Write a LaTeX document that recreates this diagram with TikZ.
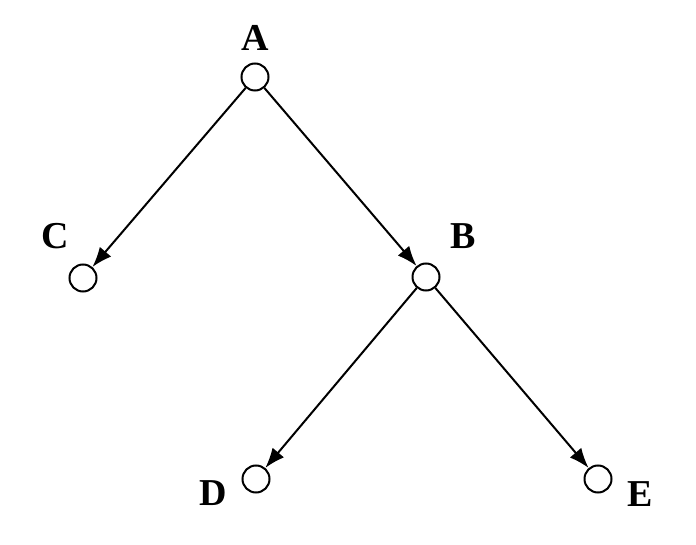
\documentclass[tikz,border=0pt]{standalone}
\usepackage{fontspec}
\setmainfont{Liberation Serif}
\usetikzlibrary{arrows.meta}
\begin{document}
\begin{tikzpicture}[x=1pt,y=-1pt,
  vtx/.style={circle,draw,line width=2pt,minimum size=27pt,inner sep=0pt},
  lbl/.style={font=\fontsize{38}{40}\selectfont\bfseries},
  edge/.style={line width=2pt,-{Latex[length=20pt,width=15pt]}}]
\useasboundingbox (0,0) rectangle (696,545);
\node[vtx] (A) at (255,77) {};
\node[vtx] (C) at (83,278) {};
\node[vtx] (B) at (426,277) {};
\node[vtx] (D) at (256,479) {};
\node[vtx] (E) at (598,479) {};
\node[lbl] (lA) at (255,38) {A};
\node[lbl] (lC) at (55,236) {C};
\node[lbl] (lB) at (463,236) {B};
\node[lbl] (lD) at (213,493) {D};
\node[lbl] (lE) at (640,494) {E};
\draw[edge] (A) -- (C);
\draw[edge] (A) -- (B);
\draw[edge] (B) -- (D);
\draw[edge] (B) -- (E);
\end{tikzpicture}
\end{document}
